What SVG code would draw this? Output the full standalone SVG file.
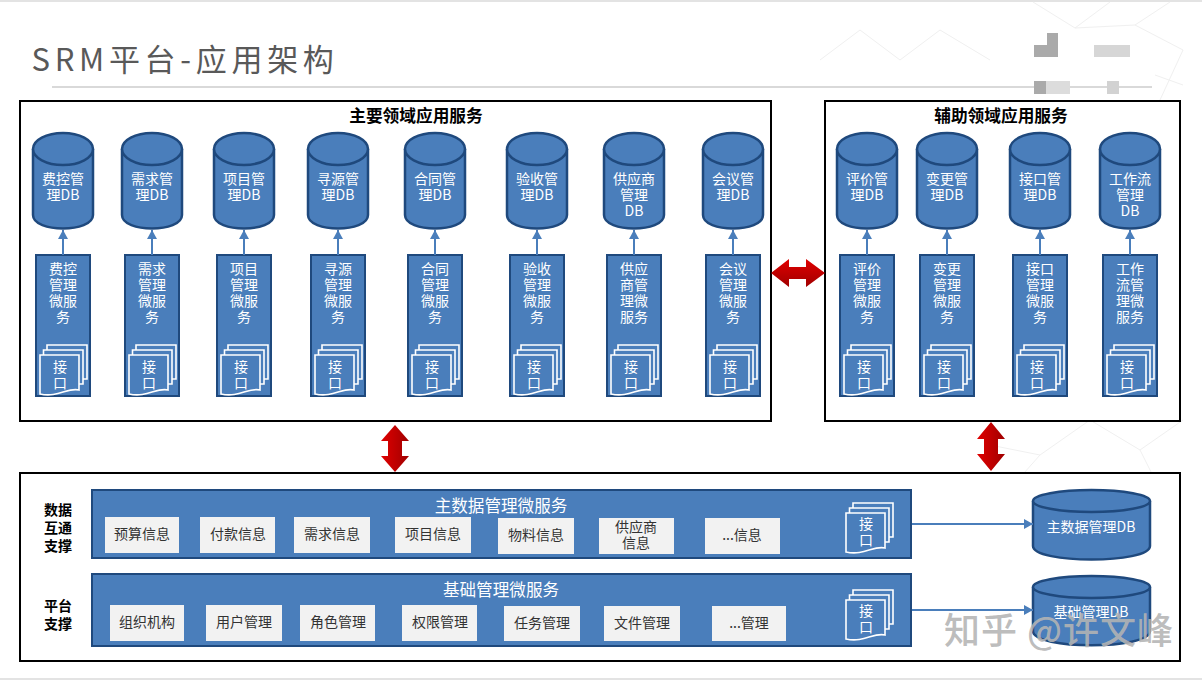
<svg xmlns="http://www.w3.org/2000/svg" xmlns:xlink="http://www.w3.org/1999/xlink" width="1202" height="680" viewBox="0 0 1202 680">
<style>
text{font-family:"Noto Sans CJK SC","Liberation Sans",sans-serif;text-anchor:middle}
.frame{fill:#fff;stroke:#000;stroke-width:2}
.svc{fill:#4a7ebb;stroke:#1f497d;stroke-width:2}
.body{fill:#4a7ebb;stroke:#1f497d;stroke-width:2.5}
.w{fill:#fff;font-size:14px}
.wl{fill:#fff;font-size:16.600px}
.h{fill:#000;font-size:16.700px;font-weight:700}
.item{fill:#f2f2f2}
.t{fill:#333;font-size:14px}
.side{fill:#000;font-size:14px;font-weight:700}
.doc{fill:#4a7ebb;stroke:#fff;stroke-width:1.6}
.link{fill:none;stroke:#4a7ebb;stroke-width:2;marker-end:url(#a)}
.hex{fill:none;stroke:#f0f0f0;stroke-width:1}
.blur{fill:#aaa}
</style>
<defs>
<marker id="a" markerWidth="11" markerHeight="11" refX="9" refY="5" orient="auto" markerUnits="userSpaceOnUse"><path d="M0 0L9 5L0 10z" fill="#4a7ebb"/></marker>
<linearGradient id="rv" x1="0" x2="1" y1="0" y2="0"><stop offset="0" stop-color="#e00000"/><stop offset="1" stop-color="#a00000"/></linearGradient>
<linearGradient id="rh" x1="0" x2="0" y1="0" y2="1"><stop offset="0" stop-color="#e00000"/><stop offset="1" stop-color="#a00000"/></linearGradient>
<g id="doc">
<path class="doc" d="M7 0H47V34H7z"/>
<path class="doc" d="M3.500 5H43V39H3.500z"/>
<path class="doc" d="M0 10H39V45C28 42 18 53 0 49z"/>
</g>
<g id="db">
<path class="body" d="M-30 -80V-14C-30 4 30 4 30 -14V-80"/>
<ellipse class="body" cx="0" cy="-80" rx="30" ry="16"/>
</g>
</defs>
<rect width="1202" height="680" fill="#fff"/>
<rect width="1202" height="2" fill="#e3e3e3"/>
<rect y="678" width="1202" height="2" fill="#e3e3e3"/>
<g id="background">
<path class="hex" d="M1033 2L1075 28L1110 2M1075 28L1135 25L1170 2M1135 25L1183 50L1160 100M1155 75L1183 85M820 60L860 30L900 60L940 30L990 60M1183 420L1140 450L1090 420L1040 455L990 445M1140 450L1170 510M1040 455L1000 500"/>
</g>
<g id="title">
<text x="185" y="71" style="font-size:31px;letter-spacing:4.700px;fill:#595959">SRM平台-应用架构</text>
<rect x="52" y="86" width="1100" height="2" fill="#d9d9d9"/>
</g>
<g id="mosaic">
<rect class="blur" x="1047" y="33" width="11" height="24"/>
<rect class="blur" x="1034" y="45" width="24" height="12"/>
<rect x="1094" y="45" width="36" height="12" fill="#d6d6d6"/>
<rect class="blur" x="1034" y="81" width="12" height="13"/>
<rect x="1046" y="81" width="24" height="13" fill="#dcdcdc"/>
<rect x="1107" y="81" width="12" height="13" fill="#d2d2d2"/>
</g>
<g id="main-domain">
<rect class="frame" x="20" y="101" width="751" height="320"/>
<text class="h" x="416" y="122">主要领域应用服务</text>
</g>
<g id="aux-domain">
<rect class="frame" x="825" y="101" width="355" height="320"/>
<text class="h" x="1001" y="122">辅助领域应用服务</text>
</g>
<g id="db-fk"><use href="#db" x="63" y="229"/><text class="w" x="63" y="184">费控管</text><text class="w" x="63" y="200">理DB</text></g>
<g id="db-xq"><use href="#db" x="152" y="229"/><text class="w" x="152" y="184">需求管</text><text class="w" x="152" y="200">理DB</text></g>
<g id="db-xm"><use href="#db" x="244" y="229"/><text class="w" x="244" y="184">项目管</text><text class="w" x="244" y="200">理DB</text></g>
<g id="db-xy"><use href="#db" x="338" y="229"/><text class="w" x="338" y="184">寻源管</text><text class="w" x="338" y="200">理DB</text></g>
<g id="db-ht"><use href="#db" x="435" y="229"/><text class="w" x="435" y="184">合同管</text><text class="w" x="435" y="200">理DB</text></g>
<g id="db-ys"><use href="#db" x="537" y="229"/><text class="w" x="537" y="184">验收管</text><text class="w" x="537" y="200">理DB</text></g>
<g id="db-gy"><use href="#db" x="634" y="229"/><text class="w" x="634" y="184">供应商</text><text class="w" x="634" y="200">管理</text><text class="w" x="634" y="216">DB</text></g>
<g id="db-hy"><use href="#db" x="733" y="229"/><text class="w" x="733" y="184">会议管</text><text class="w" x="733" y="200">理DB</text></g>
<g id="db-pj"><use href="#db" x="867" y="229"/><text class="w" x="867" y="184">评价管</text><text class="w" x="867" y="200">理DB</text></g>
<g id="db-bg"><use href="#db" x="947" y="229"/><text class="w" x="947" y="184">变更管</text><text class="w" x="947" y="200">理DB</text></g>
<g id="db-jk"><use href="#db" x="1040" y="229"/><text class="w" x="1040" y="184">接口管</text><text class="w" x="1040" y="200">理DB</text></g>
<g id="db-gzl"><use href="#db" x="1130" y="229"/><text class="w" x="1130" y="184">工作流</text><text class="w" x="1130" y="200">管理</text><text class="w" x="1130" y="216">DB</text></g>
<g id="svc-fk"><rect class="svc" x="36" y="255" width="54" height="141"/><text class="w" x="63" y="274">费控</text><text class="w" x="63" y="290">管理</text><text class="w" x="63" y="306">微服</text><text class="w" x="63" y="322">务</text><use href="#doc" x="40" y="345"/><text class="w" x="60" y="372">接</text><text class="w" x="60" y="388">口</text></g>
<g id="svc-xq"><rect class="svc" x="125" y="255" width="54" height="141"/><text class="w" x="152" y="274">需求</text><text class="w" x="152" y="290">管理</text><text class="w" x="152" y="306">微服</text><text class="w" x="152" y="322">务</text><use href="#doc" x="129" y="345"/><text class="w" x="149" y="372">接</text><text class="w" x="149" y="388">口</text></g>
<g id="svc-xm"><rect class="svc" x="217" y="255" width="54" height="141"/><text class="w" x="244" y="274">项目</text><text class="w" x="244" y="290">管理</text><text class="w" x="244" y="306">微服</text><text class="w" x="244" y="322">务</text><use href="#doc" x="221" y="345"/><text class="w" x="241" y="372">接</text><text class="w" x="241" y="388">口</text></g>
<g id="svc-xy"><rect class="svc" x="311" y="255" width="54" height="141"/><text class="w" x="338" y="274">寻源</text><text class="w" x="338" y="290">管理</text><text class="w" x="338" y="306">微服</text><text class="w" x="338" y="322">务</text><use href="#doc" x="315" y="345"/><text class="w" x="335" y="372">接</text><text class="w" x="335" y="388">口</text></g>
<g id="svc-ht"><rect class="svc" x="408" y="255" width="54" height="141"/><text class="w" x="435" y="274">合同</text><text class="w" x="435" y="290">管理</text><text class="w" x="435" y="306">微服</text><text class="w" x="435" y="322">务</text><use href="#doc" x="412" y="345"/><text class="w" x="432" y="372">接</text><text class="w" x="432" y="388">口</text></g>
<g id="svc-ys"><rect class="svc" x="510" y="255" width="54" height="141"/><text class="w" x="537" y="274">验收</text><text class="w" x="537" y="290">管理</text><text class="w" x="537" y="306">微服</text><text class="w" x="537" y="322">务</text><use href="#doc" x="514" y="345"/><text class="w" x="534" y="372">接</text><text class="w" x="534" y="388">口</text></g>
<g id="svc-gy"><rect class="svc" x="607" y="255" width="54" height="141"/><text class="w" x="634" y="274">供应</text><text class="w" x="634" y="290">商管</text><text class="w" x="634" y="306">理微</text><text class="w" x="634" y="322">服务</text><use href="#doc" x="611" y="345"/><text class="w" x="631" y="372">接</text><text class="w" x="631" y="388">口</text></g>
<g id="svc-hy"><rect class="svc" x="706" y="255" width="54" height="141"/><text class="w" x="733" y="274">会议</text><text class="w" x="733" y="290">管理</text><text class="w" x="733" y="306">微服</text><text class="w" x="733" y="322">务</text><use href="#doc" x="710" y="345"/><text class="w" x="730" y="372">接</text><text class="w" x="730" y="388">口</text></g>
<g id="svc-pj"><rect class="svc" x="840" y="255" width="54" height="141"/><text class="w" x="867" y="274">评价</text><text class="w" x="867" y="290">管理</text><text class="w" x="867" y="306">微服</text><text class="w" x="867" y="322">务</text><use href="#doc" x="844" y="345"/><text class="w" x="864" y="372">接</text><text class="w" x="864" y="388">口</text></g>
<g id="svc-bg"><rect class="svc" x="920" y="255" width="54" height="141"/><text class="w" x="947" y="274">变更</text><text class="w" x="947" y="290">管理</text><text class="w" x="947" y="306">微服</text><text class="w" x="947" y="322">务</text><use href="#doc" x="924" y="345"/><text class="w" x="944" y="372">接</text><text class="w" x="944" y="388">口</text></g>
<g id="svc-jk"><rect class="svc" x="1013" y="255" width="54" height="141"/><text class="w" x="1040" y="274">接口</text><text class="w" x="1040" y="290">管理</text><text class="w" x="1040" y="306">微服</text><text class="w" x="1040" y="322">务</text><use href="#doc" x="1017" y="345"/><text class="w" x="1037" y="372">接</text><text class="w" x="1037" y="388">口</text></g>
<g id="svc-gzl"><rect class="svc" x="1103" y="255" width="54" height="141"/><text class="w" x="1130" y="274">工作</text><text class="w" x="1130" y="290">流管</text><text class="w" x="1130" y="306">理微</text><text class="w" x="1130" y="322">服务</text><use href="#doc" x="1107" y="345"/><text class="w" x="1127" y="372">接</text><text class="w" x="1127" y="388">口</text></g>
<g id="platform">
<rect class="frame" x="20" y="473" width="1160" height="188"/>
<text class="side" x="58" y="515">数据</text><text class="side" x="58" y="533">互通</text><text class="side" x="58" y="551">支撑</text>
<text class="side" x="58" y="611">平台</text><text class="side" x="58" y="629">支撑</text>
</g>
<g id="master-data">
<rect class="svc" x="92" y="490" width="819" height="68"/>
<text class="wl" x="501" y="512">主数据管理微服务</text>
<rect class="item" x="105" y="517" width="74" height="36"/><text class="t" x="142" y="539">预算信息</text>
<rect class="item" x="200" y="517" width="75" height="36"/><text class="t" x="238" y="539">付款信息</text>
<rect class="item" x="294" y="517" width="76" height="36"/><text class="t" x="332" y="539">需求信息</text>
<rect class="item" x="395" y="517" width="76" height="36"/><text class="t" x="433" y="539">项目信息</text>
<rect class="item" x="498" y="518" width="76" height="36"/><text class="t" x="536" y="540">物料信息</text>
<rect class="item" x="599" y="518" width="75" height="36"/><text class="t" x="636" y="532">供应商</text><text class="t" x="636" y="548">信息</text>
<rect class="item" x="705" y="518" width="75" height="36"/><text class="t" x="742" y="540">...信息</text>
<use href="#doc" x="846" y="503"/><text class="w" x="866" y="529">接</text><text class="w" x="866" y="545">口</text>
</g>
<g id="base-mgmt">
<rect class="svc" x="92" y="574" width="819" height="72"/>
<text class="wl" x="501" y="596">基础管理微服务</text>
<rect class="item" x="110" y="605" width="74" height="36"/><text class="t" x="147" y="627">组织机构</text>
<rect class="item" x="206" y="605" width="76" height="36"/><text class="t" x="244" y="627">用户管理</text>
<rect class="item" x="300" y="605" width="75" height="36"/><text class="t" x="338" y="627">角色管理</text>
<rect class="item" x="402" y="605" width="75" height="36"/><text class="t" x="440" y="627">权限管理</text>
<rect class="item" x="504" y="606" width="76" height="35"/><text class="t" x="542" y="628">任务管理</text>
<rect class="item" x="604" y="606" width="76" height="35"/><text class="t" x="642" y="628">文件管理</text>
<rect class="item" x="712" y="606" width="74" height="35"/><text class="t" x="749" y="628">...管理</text>
<use href="#doc" x="846" y="590"/><text class="w" x="866" y="616">接</text><text class="w" x="866" y="632">口</text>
</g>
<g id="db-master">
<path class="body" d="M1033 501V546C1033 564 1150 564 1150 546V501"/>
<ellipse class="body" cx="1091.500" cy="501" rx="58.500" ry="11"/>
<text class="w" x="1091" y="532">主数据管理DB</text>
</g>
<g id="db-base">
<path class="body" d="M1033 587V631C1033 650 1150 650 1150 631V587"/>
<ellipse class="body" cx="1091.500" cy="587" rx="58.500" ry="11"/>
<text class="w" x="1091" y="617">基础管理DB</text>
</g>
<g id="connectors">
<path class="link" d="M63 255V230"/>
<path class="link" d="M152 255V230"/>
<path class="link" d="M244 255V230"/>
<path class="link" d="M338 255V230"/>
<path class="link" d="M435 255V230"/>
<path class="link" d="M537 255V230"/>
<path class="link" d="M634 255V230"/>
<path class="link" d="M733 255V230"/>
<path class="link" d="M867 255V230"/>
<path class="link" d="M947 255V230"/>
<path class="link" d="M1040 255V230"/>
<path class="link" d="M1130 255V230"/>
<path class="link" d="M912 524H1033"/>
<path class="link" d="M912 610H1033"/>
<path fill="url(#rh)" d="M771 273L789 259V267H806V259L825 273L806 287V279H789V287z"/>
<path fill="url(#rv)" d="M395 425L409 441H402V456H409L395 472L381 456H388V441H381z"/>
<path fill="url(#rv)" d="M991 422L1005 439H998V454H1005L991 471L977 454H984V439H977z"/>
</g>
<g id="watermark">
<text x="1059" y="644" style="font-size:36px;font-weight:500;fill:#b4b4b4;fill-opacity:.9;letter-spacing:1px">知乎 @许文峰</text>
</g>
</svg>
